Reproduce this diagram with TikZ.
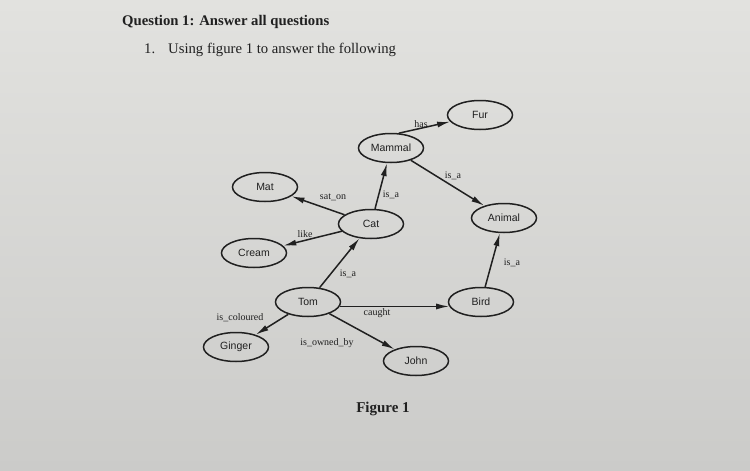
\documentclass[tikz,border=0pt]{standalone}
\usepackage{fontspec}
\setmainfont{Liberation Serif}
\newfontfamily\arialfont{Liberation Sans}
\usetikzlibrary{shapes.geometric,arrows.meta}

\definecolor{paperTop}{RGB}{226,226,223}
\definecolor{paperBot}{RGB}{203,203,201}
\definecolor{ink}{RGB}{32,32,32}

\tikzstyle{concept} = [ellipse, draw=ink, line width=1.5pt, minimum width=65pt, minimum height=29pt, inner sep=0pt, text=ink, font=\arialfont\fontsize{10.5}{12}\selectfont]
\tikzstyle{relation} = [draw=ink, line width=1.5pt, -{Latex[length=13pt,width=6pt]}]
\tikzstyle{rel label} = [inner sep=0pt, text=ink, font=\fontsize{10}{12}\selectfont]

\begin{document}
\begin{tikzpicture}[x=1pt,y=-1pt]
      \shade[top color=paperTop, bottom color=paperBot] (0,0) rectangle (750,471);
      \node[anchor=base west, inner sep=0pt, text=ink, font=\bfseries\fontsize{14.7}{16}\selectfont] (title) at (122,25) {Question 1: Answer all questions};
      \node[anchor=base west, inner sep=0pt, text=ink, font=\fontsize{14.7}{16}\selectfont] (task) at (144,53) {1.\hspace{13pt}Using figure 1 to answer the following};
      % concepts
      \node[concept] (fur) at (480,115) {Fur};
      \node[concept] (mammal) at (391,148) {Mammal};
      \node[concept] (mat) at (265,187) {Mat};
      \node[concept] (cat) at (371,224) {Cat};
      \node[concept] (animal) at (504,218) {Animal};
      \node[concept] (cream) at (254,253) {Cream};
      \node[concept] (tom) at (308,302) {Tom};
      \node[concept] (bird) at (481,302) {Bird};
      \node[concept] (ginger) at (236,347) {Ginger};
      \node[concept] (john) at (416,361) {John};
      % relations
      \draw[relation] (mammal.62) -- (fur);
      \draw[relation] (mammal) -- (animal);
      \draw[relation] (cat) -- (mat);
      \draw[relation] (cat) -- (mammal);
      \draw[relation] (cat) -- (cream);
      \draw[relation] (tom) -- (cat);
      \draw[relation] (bird) -- (animal);
      \draw[relation] (tom.-8) -- (bird.188);
      \draw[relation] (tom) -- (ginger);
      \draw[relation] (tom) -- (john);
      % labels
      \node[rel label] (has) at (421,124) {has};
      \node[rel label] (isaMA) at (453,176) {is\_a};
      \node[rel label] (saton) at (333,197) {sat\_on};
      \node[rel label] (isaCM) at (391,195) {is\_a};
      \node[rel label] (like) at (305,234) {like};
      \node[rel label] (isaTC) at (348,274) {is\_a};
      \node[rel label] (isaBA) at (512,263) {is\_a};
      \node[rel label] (caught) at (377,313) {caught};
      \node[rel label] (colour) at (240,318) {is\_coloured};
      \node[rel label] (owned) at (327,343) {is\_owned\_by};
      \node[anchor=base, inner sep=0pt, text=ink, font=\bfseries\fontsize{15}{17}\selectfont] (caption) at (383,412) {Figure 1};
    \end{tikzpicture}
\end{document}
